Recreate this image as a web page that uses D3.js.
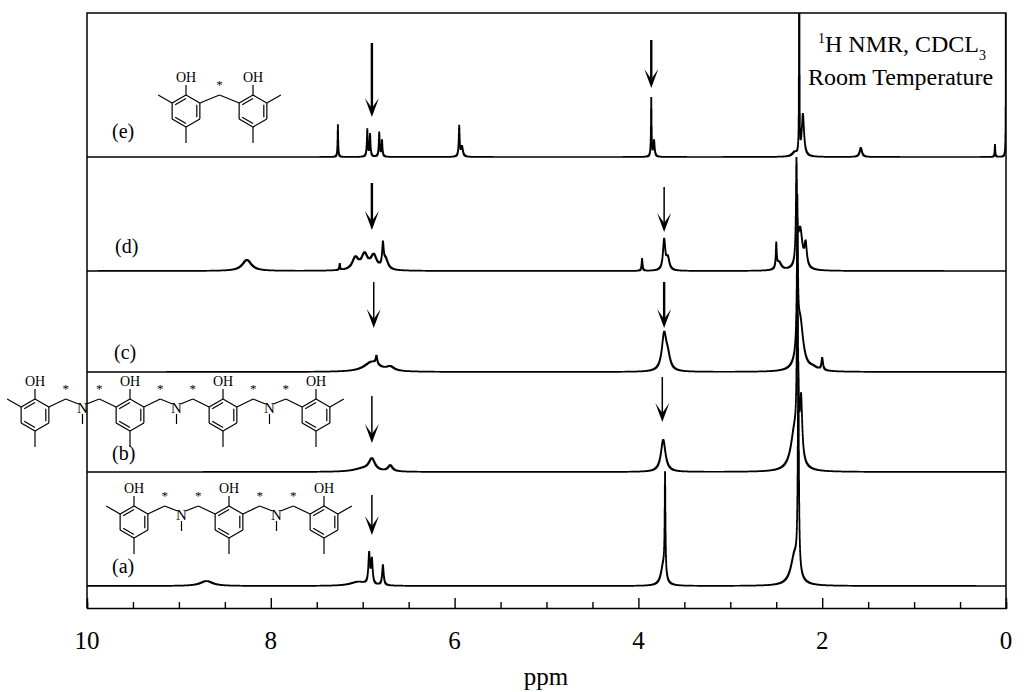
<!DOCTYPE html>
<html><head><meta charset="utf-8">
<script src="https://cdn.jsdelivr.net/npm/d3@7"></script>
<style>
body{margin:0;background:#fff}
text{font-family:"Liberation Serif","DejaVu Serif",serif;fill:#000}
</style></head><body>
<svg id="c" width="1035" height="692"></svg>
<script>
// peaks per spectrum: [ppm, height px, half width ppm]
var peaksE = [[7.27,32,0.004],[6.95,27,0.006],[6.92,22,0.006],[6.82,24,0.006],[6.79,16,0.006],
  [5.95,30,0.006],[5.92,10,0.012],[3.86,58,0.004],[3.83,16,0.008],[2.25,600,0.0015],[2.21,42,0.015],
  [2.3,4,0.03],[1.58,9,0.015],[0.12,12,0.004],[0.0,600,0.0012]];
var peaksD = [[8.26,11,0.06],[7.25,6,0.005],[7.08,12,0.04],[6.98,15,0.04],[6.88,14,0.04],[6.78,22,0.01],[6.75,10,0.03],
  [3.96,12,0.006],[3.72,30,0.015],[3.68,12,0.02],[2.5,24,0.006],[2.47,8,0.03],[2.28,98,0.007],[2.24,40,0.03],[2.18,22,0.015]];
var peaksC = [[6.9,10,0.1],[6.85,8,0.01],[6.7,4,0.05],[3.72,36,0.03],[3.68,12,0.03],[2.27,110,0.008],[2.24,50,0.04],[2.0,12,0.01],[2.1,3,0.06]];
var peaksB = [[6.9,12,0.04],[6.7,6,0.03],[7.0,3,0.12],[3.73,32,0.03],[2.27,240,0.006],[2.3,40,0.05],[2.23,60,0.015]];
var peaksA = [[8.7,5,0.08],[6.93,30,0.01],[6.9,24,0.01],[6.78,20,0.01],[7.05,4,0.1],[3.71,100,0.005],[3.73,20,0.03],[2.26,205,0.007],[2.3,30,0.05]];
var spectra = [
  {name:"(e)", peaks:peaksE, base:157, lx:112, ly:138},
  {name:"(d)", peaks:peaksD, base:271, lx:115, ly:253},
  {name:"(c)", peaks:peaksC, base:372, lx:114, ly:359},
  {name:"(b)", peaks:peaksB, base:472, lx:112, ly:460},
  {name:"(a)", peaks:peaksA, base:586, lx:112, ly:573}
];
// arrows: [ppm, y top, y bottom, heavy?]
var arrows = [[6.9,43,117,1],[3.86,40,88,1],[6.9,183,230,1],[3.72,187,232,0],[6.88,282,328,0],
  [3.72,282,328,1],[6.9,396,443,0],[3.74,377,422,0],[6.9,495,535,0]];
var majorTicks = [10,8,6,4,2,0];

var svg = d3.select("#c");
var L = 87, R = 1006, T = 13, B = 608;
var x = d3.scaleLinear().domain([10,0]).range([L,R]);

svg.append("clipPath").attr("id","clip").append("rect")
  .attr("x",L).attr("y",T).attr("width",R-L).attr("height",B-T);

var grid = d3.range(10,-0.0001,-0.002);
function profile(pk, v) {
  return pk.reduce(function(s,p){ return s + p[1]*p[2]*p[2]/((v-p[0])*(v-p[0])+p[2]*p[2]); },0);
}
var line = d3.line().curve(d3.curveStep);
spectra.forEach(function(s) {
  var pts = grid.map(function(v){ return [x(v), s.base - profile(s.peaks, v)]; });
  svg.append("path").attr("clip-path","url(#clip)")
    .attr("d", line(pts)).attr("fill","none").attr("stroke","#000").attr("stroke-width",1.7);
  svg.append("text").attr("x",s.lx).attr("y",s.ly).attr("font-size",20).text(s.name);
});

// frame
svg.append("path").attr("d","M"+L+","+B+"V"+T+"H"+R+"V"+B).attr("fill","none").attr("stroke","#000").attr("stroke-width",1.5);

// axis
var ax = svg.append("g").attr("transform","translate(0,"+B+")")
  .call(d3.axisBottom(x).tickValues(d3.range(0,10.01,0.5)).tickSize(-6).tickFormat(""));
ax.select(".domain").attr("stroke-width",1.6);
ax.selectAll(".tick line").attr("stroke-width",1.4)
  .attr("y2",function(d){ return majorTicks.indexOf(d)>=0 ? -10 : -6; });
majorTicks.forEach(function(t){
  svg.append("text").attr("x",x(t)).attr("y",649).attr("text-anchor","middle").attr("font-size",25).text(t);
});
svg.append("text").attr("x",546).attr("y",685).attr("text-anchor","middle").attr("font-size",25).text("ppm");

// title
var t1 = svg.append("text").attr("x",818).attr("y",52).attr("font-size",24);
t1.append("tspan").attr("font-size",14).attr("dy",-9).text("1");
t1.append("tspan").attr("dy",9).text("H NMR, CDCL");
t1.append("tspan").attr("font-size",14).attr("dy",8).text("3");
svg.append("text").attr("x",808).attr("y",85).attr("font-size",24).text("Room Temperature");

// arrows
arrows.forEach(function(a){
  var xa = x(a[0]), w = a[3] ? 2.4 : 1.5;
  svg.append("line").attr("x1",xa).attr("x2",xa).attr("y1",a[1]).attr("y2",a[2]-4)
    .attr("stroke","#000").attr("stroke-width",w);
  svg.append("path").attr("d","M"+(xa-7)+","+(a[2]-19)+"L"+xa+","+a[2]+"L"+(xa+7)+","+(a[2]-19)+"L"+xa+","+(a[2]-9)+"Z");
});

// structures
var ring = 16;
function vtx(cx, cy, k) {
  var a = (-90 + 60*k) * Math.PI/180;
  return [cx + ring*Math.cos(a), cy + ring*Math.sin(a)];
}
function seg(g, p, q) {
  g.append("line").attr("x1",p[0]).attr("y1",p[1]).attr("x2",q[0]).attr("y2",q[1])
    .attr("stroke","#000").attr("stroke-width",1.2);
}
function phenol(g, cx, cy, side) {
  var v = d3.range(6).map(function(k){ return vtx(cx,cy,k); });
  for (var k=0;k<6;k++) seg(g, v[k], v[(k+1)%6]);
  [[1,2],[3,4],[5,0]].forEach(function(e){
    var p = vtx(cx,cy,e[0]), q = vtx(cx,cy,e[1]);
    var s = 0.78;
    seg(g,[cx+(p[0]-cx)*s,cy+(p[1]-cy)*s],[cx+(q[0]-cx)*s,cy+(q[1]-cy)*s]);
  });
  seg(g, v[0], [v[0][0], v[0][1]-10]);
  g.append("text").attr("x",v[0][0]).attr("y",v[0][1]-13).attr("text-anchor","middle").attr("font-size",14).text("OH");
  seg(g, v[3], [v[3][0], v[3][1]+16]);
  if (side === "L") seg(g, v[5], [v[5][0]-14, v[5][1]-8]);
  if (side === "R") seg(g, v[1], [v[1][0]+14, v[1][1]-8]);
}
function star(g, px, py) {
  g.append("text").attr("x",px).attr("y",py).attr("text-anchor","middle").attr("font-size",13).text("*");
}
function linkCH2(g, c1, c2, cy) {
  var a = vtx(c1,cy,1), b = vtx(c2,cy,5);
  var m = [(a[0]+b[0])/2, a[1]-8];
  seg(g,a,m); seg(g,m,b); star(g,m[0],m[1]-6);
}
function linkN(g, c1, c2, cy) {
  var a = vtx(c1,cy,1), b = vtx(c2,cy,5);
  var dx = (b[0]-a[0])/4;
  var p1 = [a[0]+dx, a[1]-8], n = [a[0]+2*dx, a[1]], p2 = [a[0]+3*dx, a[1]-8];
  seg(g,a,p1); seg(g,p1,[n[0]-4,n[1]-3]); seg(g,[n[0]+4,n[1]-3],p2); seg(g,p2,b);
  seg(g,[n[0],n[1]+7],[n[0],n[1]+17]);
  g.append("text").attr("x",n[0]).attr("y",n[1]+6).attr("text-anchor","middle").attr("font-size",15).text("N");
  star(g,p1[0],p1[1]-6); star(g,p2[0],p2[1]-6);
}
function molecule(centers, cy, kinds) {
  var g = svg.append("g");
  centers.forEach(function(c,i){
    phenol(g, c, cy, i===0 ? "L" : (i===centers.length-1 ? "R" : ""));
    if (i>0) (kinds==="CH2" ? linkCH2 : linkN)(g, centers[i-1], c, cy);
  });
}
molecule([186, 253], 111, "CH2");
molecule([35, 130, 223, 316], 415, "N");
molecule([134, 229, 324], 522, "N");
</script></body></html>
